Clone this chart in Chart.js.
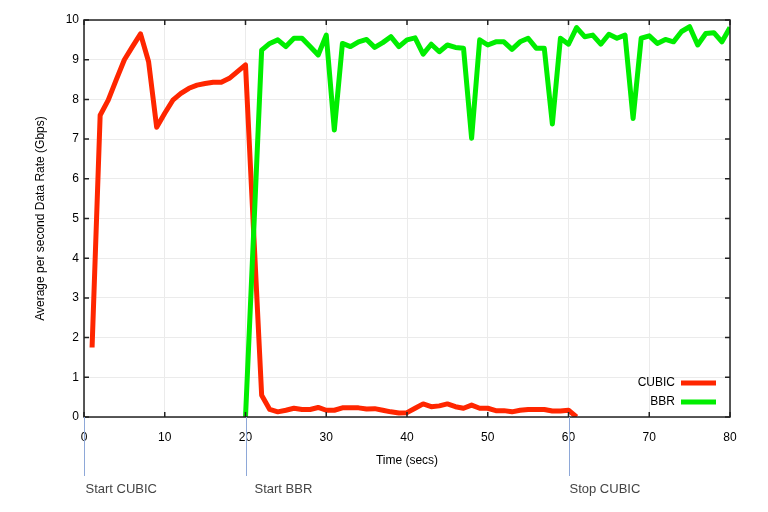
<!DOCTYPE html>
<html lang="en">

<head>
    <meta charset="UTF-8">
    <title>CUBIC vs BBR</title>
    <script src="https://cdn.jsdelivr.net/npm/chart.js"></script>
    <style>
        * {
            margin: 0;
            padding: 0;
            box-sizing: border-box;
        }

        body {
            background: #fff;
        }

        #wrap {
            width: 768px;
            height: 512px;
        }
    </style>
</head>

<body>
    <div id="wrap"><canvas id="rateChart"></canvas></div>
    <script>
        // Seconds and data rate (Gbps) for each flow
        const cubicSecs = [1, 2, 3, 4, 5, 6, 7, 8, 9, 10, 11, 12, 13, 14, 15, 16, 17, 18, 19, 20,
            21, 22, 23, 24, 25, 26, 27, 28, 29, 30, 31, 32, 33, 34, 35, 36, 37, 38, 39, 40,
            41, 42, 43, 44, 45, 46, 47, 48, 49, 50, 51, 52, 53, 54, 55, 56, 57, 58, 59, 60, 61];
        const cubicRate = [1.75, 7.6, 7.98, 8.5, 9.0, 9.33, 9.65, 8.95, 7.3, 7.65, 7.98, 8.15, 8.28, 8.36, 8.4, 8.43, 8.43, 8.53, 8.7, 8.87,
            4.7, 0.55, 0.19, 0.13, 0.17, 0.22, 0.19, 0.19, 0.24, 0.17, 0.17, 0.23, 0.23, 0.23, 0.2, 0.21, 0.17, 0.13, 0.1, 0.11,
            0.22, 0.33, 0.26, 0.28, 0.33, 0.26, 0.22, 0.3, 0.22, 0.22, 0.16, 0.16, 0.13, 0.17, 0.19, 0.19, 0.19, 0.15, 0.15, 0.17, 0];

        const bbrSecs = [20, 21, 22, 23, 24, 25, 26, 27, 28, 29, 30, 31, 32, 33, 34, 35, 36, 37, 38, 39, 40,
            41, 42, 43, 44, 45, 46, 47, 48, 49, 50, 51, 52, 53, 54, 55, 56, 57, 58, 59, 60,
            61, 62, 63, 64, 65, 66, 67, 68, 69, 70, 71, 72, 73, 74, 75, 76, 77, 78, 79, 80];
        const bbrRate = [0, 4.6, 9.24, 9.41, 9.5, 9.33, 9.54, 9.54, 9.33, 9.12, 9.62, 7.23, 9.41, 9.33, 9.45, 9.51, 9.31, 9.43, 9.58, 9.33, 9.5,
            9.55, 9.14, 9.39, 9.2, 9.37, 9.31, 9.29, 7.02, 9.5, 9.37, 9.45, 9.45, 9.26, 9.45, 9.54, 9.29, 9.29, 7.38, 9.54, 9.39,
            9.81, 9.58, 9.62, 9.39, 9.64, 9.54, 9.62, 7.52, 9.54, 9.6, 9.41, 9.51, 9.45, 9.71, 9.83, 9.37, 9.66, 9.68, 9.45, 9.81];

        // Event markers below the time axis
        const eventSecs = [0, 20, 60];
        const eventLabels = ["Start CUBIC", "Start BBR", "Stop CUBIC"];

        const FONT = "'Liberation Sans', Arial, sans-serif";
        const RED = "rgb(255, 38, 0)";
        const GREEN = "rgb(0, 238, 0)";

        function pts(xs, ys) {
            return xs.map((x, i) => ({ x: x, y: ys[i] }));
        }

        // frame with inward ticks, event markers and the legend (gnuplot look)
        const decor = {
            id: 'decor',
            afterDatasetsDraw(chart) {
                const { ctx, chartArea: a, scales } = chart;
                const xs = scales.x, ys = scales.y;
                ctx.save();

                ctx.strokeStyle = '#222';
                ctx.lineWidth = 1.5;
                ctx.strokeRect(a.left, a.top, a.right - a.left, a.bottom - a.top);

                ctx.beginPath();
                xs.ticks.forEach(t => {
                    const px = xs.getPixelForValue(t.value);
                    ctx.moveTo(px, a.bottom); ctx.lineTo(px, a.bottom - 5);
                    ctx.moveTo(px, a.top); ctx.lineTo(px, a.top + 5);
                });
                ys.ticks.forEach(t => {
                    const py = ys.getPixelForValue(t.value);
                    ctx.moveTo(a.left, py); ctx.lineTo(a.left + 5, py);
                    ctx.moveTo(a.right, py); ctx.lineTo(a.right - 5, py);
                });
                ctx.stroke();

                // event markers
                const shift = [1, 8, 0];
                ctx.strokeStyle = '#8ea8d8';
                ctx.lineWidth = 1;
                ctx.fillStyle = '#444';
                ctx.font = "13px " + FONT;
                ctx.textAlign = 'left';
                ctx.textBaseline = 'middle';
                eventSecs.forEach((s, i) => {
                    const px = Math.round(xs.getPixelForValue(s)) + 0.5;
                    ctx.beginPath();
                    ctx.moveTo(px, a.bottom);
                    ctx.lineTo(px, a.bottom + 59);
                    ctx.stroke();
                    ctx.fillText(eventLabels[i], px + shift[i], a.bottom + 72);
                });

                // legend
                ctx.font = "12px " + FONT;
                ctx.textAlign = 'right';
                ctx.fillStyle = '#000';
                ctx.lineWidth = 5;
                ctx.lineCap = 'butt';
                [[ "CUBIC", RED ], [ "BBR", GREEN ]].forEach(([name, col], i) => {
                    const y = a.bottom - 34 + i * 19;
                    ctx.fillText(name, a.right - 55, y);
                    ctx.strokeStyle = col;
                    ctx.beginPath();
                    ctx.moveTo(a.right - 49, y);
                    ctx.lineTo(a.right - 14, y);
                    ctx.stroke();
                });

                ctx.restore();
            }
        };

        new Chart(document.getElementById('rateChart'), {
            type: 'line',
            data: {
                datasets: [
                    {
                        label: 'CUBIC',
                        data: pts(cubicSecs, cubicRate),
                        borderColor: RED,
                        borderWidth: 5,
                        pointRadius: 0,
                        borderJoinStyle: 'round',
                        order: 1
                    },
                    {
                        label: 'BBR',
                        data: pts(bbrSecs, bbrRate),
                        borderColor: GREEN,
                        borderWidth: 5,
                        pointRadius: 0,
                        borderJoinStyle: 'round',
                        order: 0
                    }
                ]
            },
            options: {
                responsive: true,
                maintainAspectRatio: false,
                animation: false,
                layout: { padding: { top: 20, right: 38, left: 0, bottom: 0 } },
                plugins: {
                    legend: { display: false },
                    tooltip: { enabled: false }
                },
                scales: {
                    x: {
                        type: 'linear',
                        min: 0,
                        max: 80,
                        ticks: { stepSize: 10, color: '#000', padding: 13, font: { family: FONT, size: 12 } },
                        grid: { color: '#ebebeb', drawTicks: false },
                        border: { display: false },
                        title: {
                            display: true,
                            text: 'Time (secs)',
                            color: '#000',
                            font: { family: FONT, size: 12 },
                            padding: { top: 0, bottom: 44 }
                        },
                        afterFit(scale) { scale.height = 95; }
                    },
                    y: {
                        min: 0,
                        max: 10,
                        ticks: { stepSize: 1, color: '#000', padding: 5, font: { family: FONT, size: 12 } },
                        grid: { color: '#ebebeb', drawTicks: false },
                        border: { display: false },
                        title: {
                            display: true,
                            text: 'Average per second Data Rate (Gbps)',
                            color: '#000',
                            font: { family: FONT, size: 12 },
                            padding: { top: 33, bottom: 0 }
                        },
                        afterFit(scale) { scale.width = 84; }
                    }
                }
            },
            plugins: [decor]
        });
    </script>
</body>

</html>
